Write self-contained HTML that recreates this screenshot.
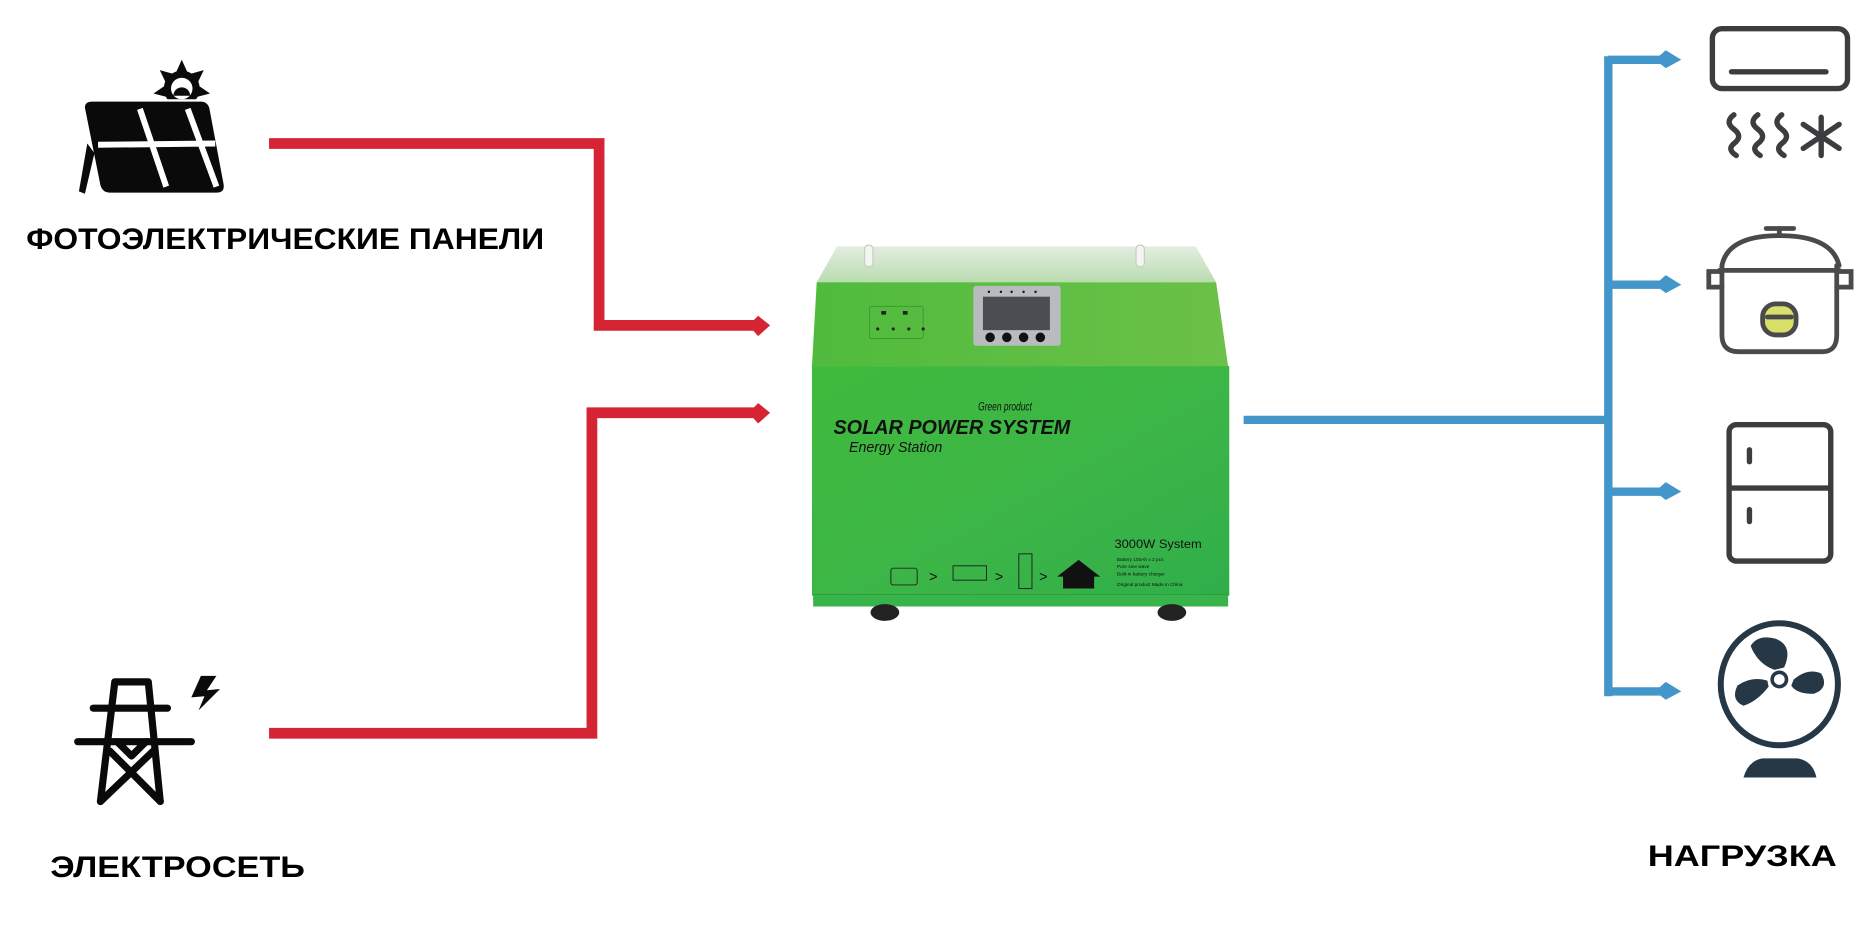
<!DOCTYPE html>
<html><head><meta charset="utf-8"><style>
html,body{margin:0;padding:0;background:#fff;width:1875px;height:951px;overflow:hidden}
svg{display:block}
text{font-family:"Liberation Sans","DejaVu Sans",sans-serif}
</style></head><body>
<svg width="1875" height="951" viewBox="0 0 1568 795" preserveAspectRatio="none" xmlns="http://www.w3.org/2000/svg">
<defs>
<linearGradient id="g1" x1="0" y1="0" x2="1" y2="1"><stop offset="0" stop-color="#3fba3c"/><stop offset="0.6" stop-color="#3cb547"/><stop offset="1" stop-color="#2fae4a"/></linearGradient>
<linearGradient id="g2" x1="0" y1="0" x2="1" y2="0"><stop offset="0" stop-color="#4fbb3d"/><stop offset="1" stop-color="#6cc148"/></linearGradient>
<linearGradient id="lid" x1="0" y1="0" x2="0" y2="1"><stop offset="0" stop-color="#e4ede0"/><stop offset="1" stop-color="#b9dcb0"/></linearGradient>
</defs>

<!-- solar panel icon -->
<g fill="#0a0a0a">
<g transform="translate(152,74)">
<circle r="15"/>
<g>
<path d="M-5 -13 L0 -24 L5 -13Z"/>
<path d="M-5 -13 L0 -24 L5 -13Z" transform="rotate(50)"/>
<path d="M-5 -13 L0 -24 L5 -13Z" transform="rotate(100)"/>
<path d="M-5 -13 L0 -24 L5 -13Z" transform="rotate(-50)"/>
<path d="M-5 -13 L0 -24 L5 -13Z" transform="rotate(-100)"/>
</g>
<circle r="9" fill="#fff"/>
<path d="M-7 6 A7 7 0 0 1 7 6Z" fill="#0a0a0a"/>
</g>
<path d="M70 90 Q70 84 77 84 L168 84 Q174 84 176 90 L188 154 Q189 162 181 162 L92 162 Q85 162 83 155 Z" stroke="#fff" stroke-width="2"/>
<path d="M73 120 L66 160 L71 162 L79 128Z"/>
</g>
<g stroke="#fff" stroke-width="5">
<line x1="82" y1="121" x2="180" y2="120"/>
<line x1="117" y1="91" x2="139" y2="156"/>
<line x1="157" y1="91" x2="181" y2="156"/>
</g>
<text x="22" y="208" font-size="25" font-weight="bold" fill="#000" textLength="433" lengthAdjust="spacingAndGlyphs">ФОТОЭЛЕКТРИЧЕСКИЕ ПАНЕЛИ</text>

<!-- tower icon -->
<g stroke="#0a0a0a" stroke-width="6" fill="none" stroke-linecap="round" stroke-linejoin="round">
<path d="M96 570 L124 570 M96 570 L84 670 M124 570 L134 670"/>
<line x1="78" y1="592" x2="140" y2="592"/>
<line x1="65" y1="620" x2="160" y2="620"/>
<path d="M84 670 L128 628 M134 670 L92 628 M98 620 L110 632 L122 620"/>
</g>
<path d="M168 565 L181 565 L173 577 L184 576 L166 594 L171 582 L160 583Z" fill="#0a0a0a"/>
<text x="42" y="733" font-size="25" font-weight="bold" fill="#000" textLength="213" lengthAdjust="spacingAndGlyphs">ЭЛЕКТРОСЕТЬ</text>

<!-- red connectors -->
<g stroke="#d52535" stroke-width="9" fill="none">
<path d="M225 120 L501 120 L501 272 L632 272"/>
<path d="M225 613 L495 613 L495 345 L632 345"/>
</g>
<path d="M626 272 L634 264 L644 272 L634 281Z" fill="#d52535"/>
<path d="M626 345 L634 337 L644 345 L634 354Z" fill="#d52535"/>

<!-- product -->
<polygon points="700,206 1000,206 1017,236 683,236" fill="url(#lid)"/>
<rect x="723" y="205" width="7" height="18" rx="3" fill="#f2f5f0" stroke="#c5cfc0"/>
<rect x="950" y="205" width="7" height="18" rx="3" fill="#f2f5f0" stroke="#c5cfc0"/>
<polygon points="683,236 1017,236 1027,306 679,306" fill="url(#g2)"/>
<rect x="679" y="306" width="349" height="192" fill="url(#g1)"/>
<rect x="680" y="497" width="347" height="10" fill="#37b54a"/>
<line x1="680" y1="497" x2="1027" y2="497" stroke="#2b9e3e" stroke-width="0.8"/>
<ellipse cx="740" cy="512" rx="12" ry="7" fill="#222"/>
<ellipse cx="980" cy="512" rx="12" ry="7" fill="#222"/>
<rect x="727" y="256" width="45" height="27" rx="2" fill="none" stroke="#2e8f30" stroke-width="0.6"/>
<g fill="#222"><rect x="737" y="260" width="4" height="3"/><rect x="755" y="260" width="4" height="3"/>
<circle cx="734" cy="275" r="1.3"/><circle cx="747" cy="275" r="1.3"/><circle cx="760" cy="275" r="1.3"/><circle cx="772" cy="275" r="1.3"/></g>
<rect x="814" y="239" width="73" height="50" rx="2" fill="#b9bcbf"/>
<rect x="822" y="248" width="56" height="28" fill="#4a4d52"/>
<g fill="#111"><circle cx="828" cy="282" r="4"/><circle cx="842" cy="282" r="4"/><circle cx="856" cy="282" r="4"/><circle cx="870" cy="282" r="4"/>
<circle cx="827" cy="244" r="1"/><circle cx="837" cy="244" r="1"/><circle cx="846" cy="244" r="1"/><circle cx="856" cy="244" r="1"/><circle cx="866" cy="244" r="1"/></g>
<text x="818" y="343" font-size="10" fill="#111" font-style="italic" textLength="45" lengthAdjust="spacingAndGlyphs">Green product</text>
<text x="697" y="363" font-size="17" font-weight="bold" font-style="italic" fill="#111" textLength="198" lengthAdjust="spacingAndGlyphs">SOLAR POWER SYSTEM</text>
<text x="710" y="378" font-size="12" font-style="italic" fill="#111" font-family="Liberation Serif,serif" textLength="78" lengthAdjust="spacingAndGlyphs">Energy Station</text>
<text x="932" y="458" font-size="10" fill="#111" textLength="73" lengthAdjust="spacingAndGlyphs">3000W System</text>
<g font-size="4" fill="#111"><text x="934" y="469">Battery 100Ah x 2 pcs</text><text x="934" y="475">Pure sine wave</text><text x="934" y="481">Built-in battery charger</text><text x="934" y="490">Original product  Made in China</text></g>
<g fill="none" stroke="#222" stroke-width="0.8"><rect x="745" y="475" width="22" height="14" rx="2"/><rect x="797" y="473" width="28" height="12"/><rect x="852" y="463" width="11" height="29"/></g>
<g font-size="12" fill="#111"><text x="777" y="486">&gt;</text><text x="832" y="486">&gt;</text><text x="869" y="486">&gt;</text></g>
<path d="M884 482 L902 468 L920 482 L915 482 L915 492 L889 492 L889 482Z" fill="#111"/>

<!-- blue connectors -->
<g stroke="#4296c9" stroke-width="7" fill="none">
<line x1="1040" y1="351" x2="1345" y2="351"/>
<line x1="1345" y1="47" x2="1345" y2="582"/>
<line x1="1345" y1="50" x2="1392" y2="50"/>
<line x1="1345" y1="238" x2="1392" y2="238"/>
<line x1="1345" y1="411" x2="1392" y2="411"/>
<line x1="1345" y1="578" x2="1392" y2="578"/>
</g>
<g fill="#4296c9">
<path d="M1384 50 L1393 42 L1406 50 L1393 57Z"/>
<path d="M1384 238 L1393 230 L1406 238 L1393 245Z"/>
<path d="M1384 411 L1393 403 L1406 411 L1393 418Z"/>
<path d="M1384 578 L1393 570 L1406 578 L1393 585Z"/>
</g>

<!-- AC -->
<g stroke="#3d3d3f" stroke-width="4.5" fill="none" stroke-linecap="round">
<rect x="1432" y="24" width="113" height="50" rx="8"/>
<line x1="1448" y1="60" x2="1527" y2="60"/>
<path d="M1450 96 q-8 6 0 12 q8 6 0 12 q-6 5 2 10"/>
<path d="M1470 96 q-8 6 0 12 q8 6 0 12 q-6 5 2 10"/>
<path d="M1490 96 q-8 6 0 12 q8 6 0 12 q-6 5 2 10"/>
<line x1="1523" y1="98" x2="1523" y2="130"/><line x1="1508" y1="104" x2="1538" y2="124"/><line x1="1508" y1="124" x2="1538" y2="104"/>
</g>
<!-- cooker -->
<g stroke="#4a4a4c" stroke-width="4" fill="none" stroke-linecap="round">
<line x1="1477" y1="191" x2="1500" y2="191"/>
<line x1="1488" y1="191" x2="1488" y2="197"/>
<path d="M1440 222 Q1445 197 1488 197 Q1532 197 1538 222"/>
<line x1="1438" y1="226" x2="1538" y2="226"/>
<path d="M1440 222 L1440 280 Q1440 294 1454 294 L1524 294 Q1536 294 1536 280 L1536 222"/>
<path d="M1440 227 L1429 227 L1429 240 L1440 240 M1536 227 L1548 227 L1548 240 L1536 240"/>
<rect x="1474" y="254" width="28" height="26" rx="11" fill="#d8e06a"/>
<line x1="1478" y1="265" x2="1498" y2="265"/>
</g>
<!-- fridge -->
<g stroke="#3d3d3f" stroke-width="4.5" fill="none" stroke-linecap="round">
<rect x="1446" y="355" width="85" height="114" rx="6"/>
<line x1="1446" y1="408" x2="1531" y2="408"/>
<line x1="1463" y1="376" x2="1463" y2="386"/>
<line x1="1463" y1="426" x2="1463" y2="436"/>
</g>
<!-- fan -->
<g fill="#263746">
<ellipse cx="1488" cy="572" rx="49" ry="51" fill="none" stroke="#263746" stroke-width="5"/>
<path d="M1484 560 Q1470 555 1464 540 Q1470 530 1485 534 Q1500 540 1492 558Z"/>
<path d="M1500 568 Q1512 558 1523 563 Q1530 575 1517 580 Q1502 580 1498 573Z"/>
<path d="M1479 574 Q1470 586 1458 590 Q1447 585 1453 573 Q1465 565 1478 569Z"/>
<circle cx="1488" cy="568" r="6" fill="#fff" stroke="#263746" stroke-width="3"/>
<path d="M1458 650 Q1462 636 1474 634 L1503 634 Q1516 636 1519 650Z"/>
</g>
<text x="1378" y="724" font-size="25" font-weight="bold" fill="#000" textLength="158" lengthAdjust="spacingAndGlyphs">НАГРУЗКА</text>
</svg>
</body></html>
